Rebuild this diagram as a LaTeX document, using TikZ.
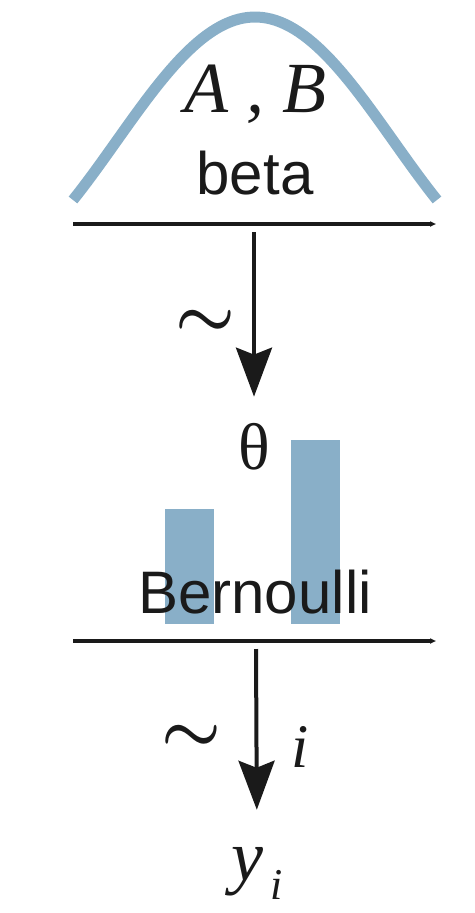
\documentclass[tikz,border=0pt]{standalone}
\usepackage{fontspec}
\setmainfont{Liberation Serif}
\setsansfont{Liberation Sans}
\usetikzlibrary{arrows.meta}
\definecolor{betablue}{RGB}{137,175,200}
\definecolor{inkblack}{RGB}{26,26,26}

\begin{document}
\begin{tikzpicture}[x=1pt,y=1pt,yscale=-1,
  every node/.style={inner sep=0pt,text=inkblack},
  arr/.style={draw=inkblack,line width=4pt,-{Stealth[length=49pt,width=36pt,inset=7pt]}},
  axisline/.style={draw=inkblack,line width=3.5pt,-{Triangle[length=6pt,width=5pt]}},
  sanslabel/.style={font=\sffamily\fontsize{60}{70}\selectfont},
  serifbig/.style={font=\fontsize{72}{80}\selectfont\itshape},
  simlabel/.style={scale=6.7,font=\boldmath}]
\useasboundingbox (0,0) rectangle (474,913);

%Beta curve
\draw [betablue,line width=11pt] plot [domain=-1:1,samples=80] ({255+182*\x},{17+183*(1-cos(118*\x))/(1-cos(118))});
% Text Node
\node (ab) [serifbig,anchor=base] at (255,112) {A , B};
% Text Node
\node (beta) [sanslabel,anchor=base] at (255,194) {beta};
%Straight Lines
\draw [axisline] (73,224) -- (436,224);
\coordinate (split1) at (254,232);

%Bernoulli bars
\fill [betablue] (165,509) rectangle (214,624);
\fill [betablue] (291,440) rectangle (340,624);
% Text Node
\node (theta) [font=\fontsize{66}{72}\selectfont,anchor=base] at (254,469) {θ};
\node (tilde1) [simlabel] at (205,323) {$\sim$};
\draw [arr] (split1) -- (theta.north) [shorten >=26pt];
% Text Node
\node (bern) [sanslabel,anchor=base] at (255,613) {Bernoulli};
%Straight Lines
\draw [axisline] (73,641) -- (436,641);
\coordinate (split2) at (256,649);

% Text Node
\node (yi) [anchor=base] at (257,880) {\fontsize{72}{80}\selectfont\itshape y\kern7pt\raisebox{-19pt}{\fontsize{44}{48}\selectfont i}};
\node (tilde2) [simlabel] at (191,738) {$\sim$};
\node (idx) [font=\fontsize{62}{70}\selectfont\itshape,anchor=base] at (300,767) {i};
\draw [arr] (split2) -- (yi.north) [shorten >=37pt];
\end{tikzpicture}
\end{document}
